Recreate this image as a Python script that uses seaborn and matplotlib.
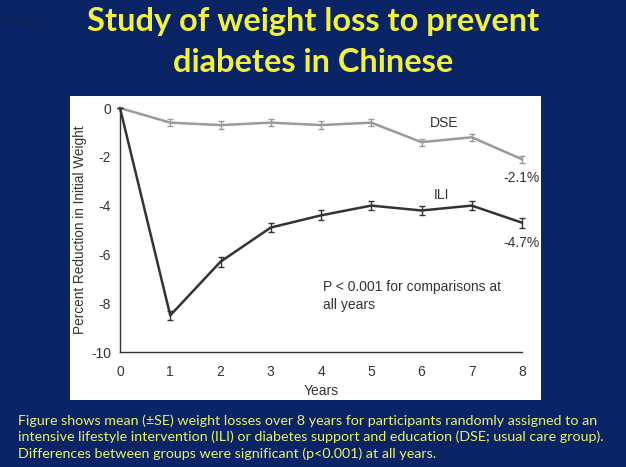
import matplotlib.pyplot as plt
import matplotlib.patches as patches
import seaborn as sns
import pandas as pd

years = [0, 1, 2, 3, 4, 5, 6, 7, 8]
dse_mean = [0, -0.6, -0.7, -0.6, -0.7, -0.6, -1.4, -1.2, -2.1]
dse_se = [0, 0.15, 0.15, 0.15, 0.15, 0.15, 0.15, 0.15, 0.15]
ili_mean = [0, -8.5, -6.3, -4.9, -4.4, -4.0, -4.2, -4.0, -4.7]
ili_se = [0, 0.2, 0.2, 0.2, 0.2, 0.2, 0.2, 0.2, 0.2]
groups = ['DSE', 'ILI']
end_labels = ['-2.1%', '-4.7%']

navy = '#0b2466'
yellow = '#f2f23a'
colours = {'DSE': '#9a9a9a', 'ILI': '#333333'}

sns.set_theme(style='white')
plt.rcParams['font.family'] = ['Liberation Sans', 'DejaVu Sans']
plt.rcParams['axes.unicode_minus'] = False

df = pd.DataFrame({
    'year': years * 2,
    'value': dse_mean + ili_mean,
    'se': dse_se + ili_se,
    'group': ['DSE'] * len(years) + ['ILI'] * len(years),
})

fig = plt.figure(figsize=(6.26, 4.67), dpi=100, facecolor=navy)

# white panel behind the chart
fig.patches.append(patches.Rectangle((70 / 626, 1 - 400 / 467), 471 / 626, 304 / 467,
                                     transform=fig.transFigure, facecolor='white',
                                     edgecolor='none', zorder=-5))

ax = fig.add_axes([120 / 626, 1 - 352 / 467, 402 / 626, 244 / 467])
ax.set_facecolor('none')
ax.set_zorder(1)

sns.lineplot(data=df, x='year', y='value', hue='group', palette=colours,
             linewidth=1.8, legend=False, ax=ax, clip_on=False)
for g in groups:
    sub = df[df['group'] == g]
    ax.errorbar(sub['year'], sub['value'], yerr=sub['se'], fmt='none',
                ecolor=colours[g], elinewidth=1, capsize=2, capthick=1, clip_on=False)

ax.set_xlim(0, 8)
ax.set_ylim(-10, 0)
ax.set_xticks(years)
ax.set_yticks([0, -2, -4, -6, -8, -10])
ax.tick_params(axis='both', direction='out', length=3, width=1, colors='#333333',
               labelsize=10, labelcolor='#333333')
ax.tick_params(axis='x', pad=6)
for side in ['top', 'right']:
    ax.spines[side].set_visible(False)
for side in ['left', 'bottom']:
    ax.spines[side].set_color('#333333')
    ax.spines[side].set_linewidth(1)

ax.set_xlabel('Years', fontsize=10, color='#333333')
ax.set_ylabel('Percent Reduction in Initial Weight', fontsize=9.8, color='#333333')
ax.xaxis.set_label_coords(0.5, -0.131)
ax.yaxis.set_label_coords(-0.082, 0.5)

ax.text(6.45, -0.6, 'DSE', fontsize=10, color='#333333', ha='center', va='center')
ax.text(8, -2.85, end_labels[0], fontsize=10, color='#333333', ha='center', va='center')
ax.text(6.4, -3.55, 'ILI', fontsize=10, color='#333333', ha='center', va='center')
ax.text(8, -5.55, end_labels[1], fontsize=10, color='#333333', ha='center', va='center')
ax.text(4.03, -7.7, 'P < 0.001 for comparisons at\nall years', fontsize=10,
        color='#333333', ha='left', va='center', linespacing=1.3)

fig.text(0.5, 1 - 22 / 467, 'Study of weight loss to prevent', fontsize=23.4,
         fontweight='bold', color=yellow, ha='center', va='center', family='Lato')
fig.text(0.5, 1 - 62 / 467, 'diabetes in Chinese', fontsize=23.4,
         fontweight='bold', color=yellow, ha='center', va='center', family='Lato')
fig.text(5 / 626, 1 - 22 / 467, 'Figure 2', fontsize=7, color='#1c2440',
         ha='left', va='center', family='Lato')

caption = ('Figure shows mean (\u00b1SE) weight losses over 8 years for participants randomly assigned to an\n'
           'intensive lifestyle intervention (ILI) or diabetes support and education (DSE; usual care group).\n'
           'Differences between groups were significant (p<0.001) at all years.')
fig.text(18 / 626, 1 - 437 / 467, caption, fontsize=10.3, color='#e8f06c',
         ha='left', va='center', family=['Lato', 'DejaVu Sans'], linespacing=1.35)

fig.savefig('out.png', dpi=100, facecolor=navy)
